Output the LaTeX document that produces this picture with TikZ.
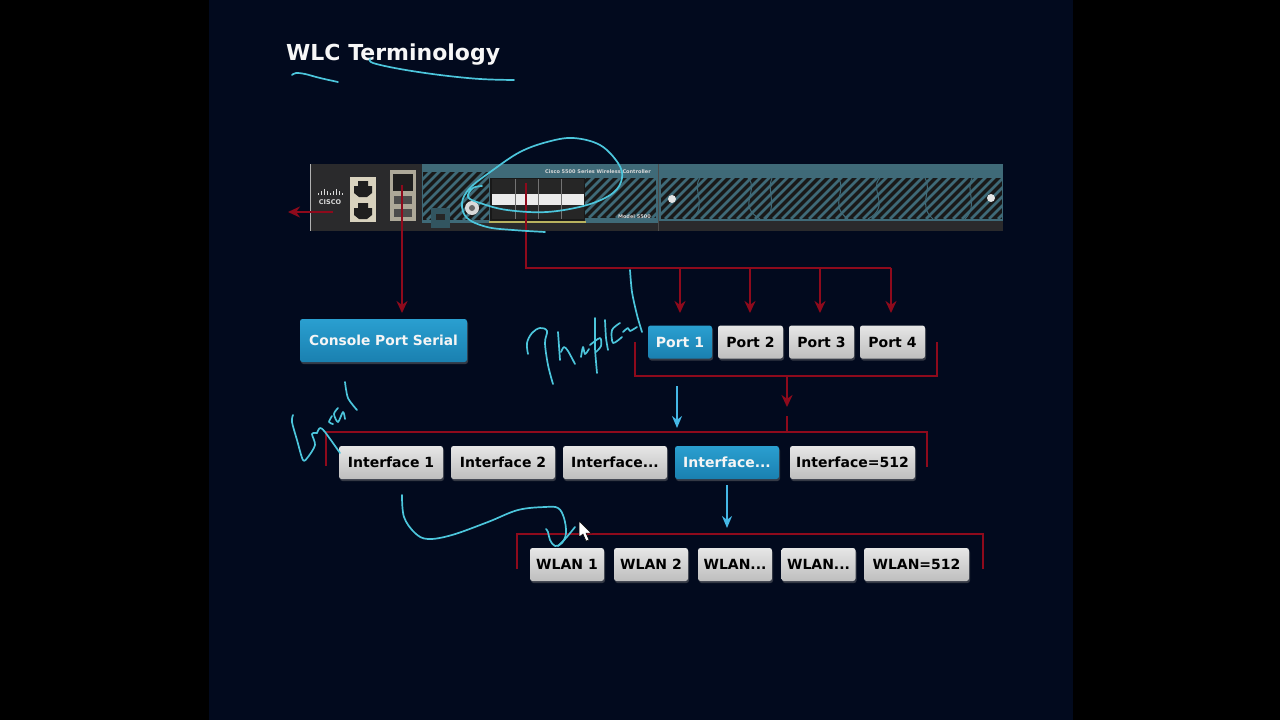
\documentclass[tikz,border=0pt]{standalone}
\usepackage{fontspec}
\setmainfont{DejaVu Sans}
\usetikzlibrary{positioning,arrows.meta,shadows}
\definecolor{slidebg}{HTML}{020A1E}
\definecolor{wirered}{HTML}{8E0A1C}
\definecolor{inkblue}{HTML}{4CC6DC}
\definecolor{arrowblue}{HTML}{45B8E6}
\definecolor{chassis}{HTML}{3F6A78}
\definecolor{chassisdark}{HTML}{2A2A2C}
\definecolor{btnblue}{HTML}{2A9FD0}
\definecolor{btnbluelow}{HTML}{1A80B0}
\definecolor{btngrey}{HTML}{E6E6E6}
\definecolor{btngreylow}{HTML}{BEBEBE}
\definecolor{rjbeige}{HTML}{D8D2BE}
\tikzset{
	greybtn/.style={draw=none,rounded corners=2.5pt,top color=btngrey,bottom color=btngreylow,text=black,
		font=\bfseries\fontsize{14}{16}\selectfont,minimum height=33pt,inner sep=0pt,outer sep=0pt,
		drop shadow={opacity=.4,shadow xshift=1pt,shadow yshift=-2pt}},
	bluebtn/.style={greybtn,top color=btnblue,bottom color=btnbluelow,text=black!4},
	wire/.style={draw=wirered,line width=2.4pt},
	wirearrow/.style={wire,-{Stealth[length=12pt,width=11pt]}},
	bluearrow/.style={draw=arrowblue,line width=1.7pt,-{Stealth[length=12pt,width=10pt]}},
	ink/.style={draw=inkblue,line width=1.7pt,line cap=round,line join=round},
	tinytext/.style={text=black!15,font=\bfseries\fontsize{5}{6}\selectfont,inner sep=0pt}
}
\begin{document}
\begin{tikzpicture}[x=1pt,y=-1pt]
	\useasboundingbox (0,0) rectangle (1280,720);
	\fill[black] (0,0) rectangle (1280,720);
	\fill[slidebg] (209,0) rectangle (1073,720);
	\node[text=black!3,font=\bfseries\fontsize{22}{24}\selectfont,anchor=west,inner sep=0pt] (title) at (286,54.5) {WLC Terminology};
	% chassis of the controller
	\fill[chassis] (310,164) rectangle (1003,231);
	\fill[chassisdark] (658,221) rectangle (1003,231);
	\fill[chassisdark] (422,223) rectangle (658,231);
	\fill[chassisdark] (310,164) rectangle (422,231);
	\fill[black!90] (490,178) rectangle (585,222);
	\draw[black!70,line width=1pt] (658,164) -- (658,231);
	\draw[black!30] (310,164) -- (310,231);
	\foreach \xa/\xb/\ya/\yb in {423/489/172/220,585/656/178/218,661/1002/178/219}{
		\begin{scope}
			\clip (\xa,\ya) rectangle (\xb,\yb);
			\fill[black!90] (\xa,\ya) rectangle (\xb,\yb);
			\foreach \i in {0,9,...,420}{
				\draw[chassis,line width=2.6pt] (\xa+\i-50,\yb) -- ++(50,-50);
			}
		\end{scope}
	}
	% thin veins over the right grille
	\begin{scope}
		\clip (661,178) rectangle (1002,219);
		\foreach \x/\d in {700/-9,748/12,772/-6,838/10,880/-12,925/8,972/-7}{
			\draw[chassis,line width=1pt] (\x,178) .. controls (\x+\d,190) and (\x-\d,205) .. (\x+\d,219);
		}
	\end{scope}
	% ports at the left
	\fill[rjbeige] (350,177) rectangle (376,222);
	\foreach \y in {181,203}{
		\fill[black!88] (354,\y+5) -- (358,\y+5) -- (358,\y) -- (368,\y) -- (368,\y+5) -- (372,\y+5) -- (372,\y+12) -- (367,\y+16) -- (359,\y+16) -- (354,\y+12) -- cycle;
	}
	\fill[rjbeige!80!black] (390,170) rectangle (416,221);
	\fill[black!88] (393,174) rectangle (413,191);
	\fill[black!70] (394,196) rectangle (412,204);
	\fill[black!70] (394,209) rectangle (412,217);
	\fill[chassis!80!black] (431,208) rectangle (450,228);
	\fill[black!85] (436,214) rectangle (445,220);
	\fill[black!15] (472,208) circle (7pt);
	\fill[black!60] (472,208) circle (3pt);
	% SFP block
	\fill[black!85] (492,179) rectangle (584,219);
	\fill[black!8] (492,194) rectangle (584,205);
	\foreach \x in {515,538,561}{
		\draw[black!55,line width=1pt] (\x,179) -- (\x,219);
	}
	\draw[yellow!60!black!80,line width=2pt] (489,222) -- (586,222);
	% small prints
	\foreach \x/\h in {318/2,321/4,324/6,327/4,330/2,333/4,336/6,339/4,342/2}{
		\draw[black!15,line width=.8pt] (\x,195-\h) -- (\x,195);
	}
	\node[tinytext,font=\bfseries\fontsize{6.5}{8}\selectfont] (logo) at (330,202) {CISCO};
	\node[tinytext,anchor=east] (series) at (651,172) {Cisco 5500 Series Wireless Controller};
	\node[tinytext,anchor=east] (model) at (651,217) {Model 5500};
	\fill[black!10] (672,199) circle (4pt);
	\fill[black!10] (991,198) circle (4pt);
	\coordinate (console) at (402,185);
	\coordinate (sfp) at (526,183);
	\coordinate (leftend) at (333,212);
	\coordinate (leftoff) at (288,212);
	% boxes
	\node[bluebtn,minimum width=167pt,minimum height=43pt,font=\bfseries\fontsize{13.8}{16}\selectfont] (serial) at (383.5,340.5) {Console Port Serial};
	\node[bluebtn,minimum width=64pt,anchor=west] (port1) at (648,342) {Port 1};
	\node[greybtn,minimum width=65pt,right=6pt of port1] (port2) {Port 2};
	\node[greybtn,minimum width=65pt,right=6pt of port2] (port3) {Port 3};
	\node[greybtn,minimum width=65pt,right=6pt of port3] (port4) {Port 4};
	\node[greybtn,minimum width=104pt,anchor=west] (iface1) at (339,462.5) {Interface 1};
	\node[greybtn,minimum width=104pt,right=8pt of iface1] (iface2) {Interface 2};
	\node[greybtn,minimum width=104pt,right=8pt of iface2] (iface3) {Interface...};
	\node[bluebtn,minimum width=104pt,right=8pt of iface3] (iface4) {Interface...};
	\node[greybtn,minimum width=125pt,right=11pt of iface4] (iface5) {Interface=512};
	\node[greybtn,minimum width=74pt,anchor=west] (wlan1) at (530,564.5) {WLAN 1};
	\node[greybtn,minimum width=74pt,right=10pt of wlan1] (wlan2) {WLAN 2};
	\node[greybtn,minimum width=74pt,right=10pt of wlan2] (wlan3) {WLAN...};
	\node[greybtn,minimum width=74pt,right=9.5pt of wlan3] (wlan4) {WLAN...};
	\node[greybtn,minimum width=105pt,right=8.5pt of wlan4] (wlan5) {WLAN=512};
	% red wiring
	\draw[wirearrow] (leftend) -- (leftoff);
	\draw[wirearrow] (console) -- (402,313);
	\draw[wire] (sfp) |- (891,268);
	\foreach \n/\x in {port1/680,port2/750,port3/820,port4/891}{
		\draw[wirearrow] (\x,268) -- (\x,313);
	}
	\draw[wire] (635,342) |- (937,376) -- (937,342);
	\draw[wirearrow] (787,376) -- (787,407);
	\draw[wire] (787,416) -- (787,432);
	\draw[wire] (326,466) |- (927,432) -- (927,467);
	\draw[wire] (517,569) |- (983,534) -- (983,569);
	% blue arrows
	\draw[bluearrow] (677,386) -- (677,428);
	\draw[bluearrow] (727,485) -- (727,528);
	% handwriting
	\draw[ink] plot[smooth,tension=.6] coordinates {(292,75) (296,73) (305,74) (320,78) (338,82)};
	\draw[ink] plot[smooth,tension=.6] coordinates {(370,59) (373,63) (400,69) (440,75) (480,79) (514,80)};
	\draw[ink] plot[smooth,tension=.6] coordinates {(545,232) (513,230) (487,227) (467,218) (462,203) (470,188) (493,170) (520,152) (547,142) (573,138) (600,145) (618,163) (622,178) (613,193) (587,205) (547,212) (507,210) (480,203) (468,197) (473,188) (482,186)};
	\draw[ink] plot[smooth,tension=.6] coordinates {(528,354) (527,343) (532,333) (540,328) (547,331) (545,343) (548,365) (553,384)};
	\draw[ink] plot[smooth,tension=.4] coordinates {(558,332) (560,360)};
	\draw[ink] plot[smooth,tension=.5] coordinates {(561,352) (564,347) (568,351) (575,364)};
	\draw[ink] plot[smooth,tension=.5] coordinates {(581,357) (583,347) (585,354) (589,349)};
	\draw[ink] plot[smooth,tension=.4] coordinates {(595,318) (595,348) (597,373)};
	\draw[ink] plot[smooth,tension=.5] coordinates {(590,345) (600,338) (601,346) (596,352)};
	\draw[ink] plot[smooth,tension=.4] coordinates {(605,320) (606,338) (608,350)};
	\draw[ink] plot[smooth,tension=.5] coordinates {(620,323) (612,330) (613,343) (622,337)};
	\draw[ink] plot[smooth,tension=.5] coordinates {(623,332) (628,328) (630,331) (637,327)};
	\draw[ink] plot[smooth,tension=.5] coordinates {(630,270) (632,292) (637,315) (642,332)};
	\draw[ink] plot[smooth,tension=.5] coordinates {(293,415) (292,422) (297,440) (303,460) (308,457) (315,445) (312,434) (317,433)};
	\draw[ink] plot[smooth,tension=.5] coordinates {(317,433) (320,428) (325,432) (340,453)};
	\draw[ink] plot[smooth,tension=.5] coordinates {(332,416) (329,422) (333,424)};
	\draw[ink] plot[smooth,tension=.5] coordinates {(338,408) (334,414) (338,422) (343,412) (345,419)};
	\draw[ink] plot[smooth,tension=.5] coordinates {(345,382) (348,398) (357,410)};
	\draw[ink] plot[smooth,tension=.6] coordinates {(402,495) (404,517) (415,533) (428,539) (452,535) (488,522) (518,510) (545,507) (558,508) (564,518) (566,533) (562,543) (555,546) (550,540) (548,532) (546,529)};
	\draw[ink] plot[smooth,tension=.5] coordinates {(558,546) (566,538) (575,527)};
	% pointer
	\fill[white,draw=black,line width=.5pt] (579,521) -- (579,537) -- (583,534) -- (586,541) -- (589,540) -- (586,533) -- (591,533) -- cycle;
\end{tikzpicture}
\end{document}
